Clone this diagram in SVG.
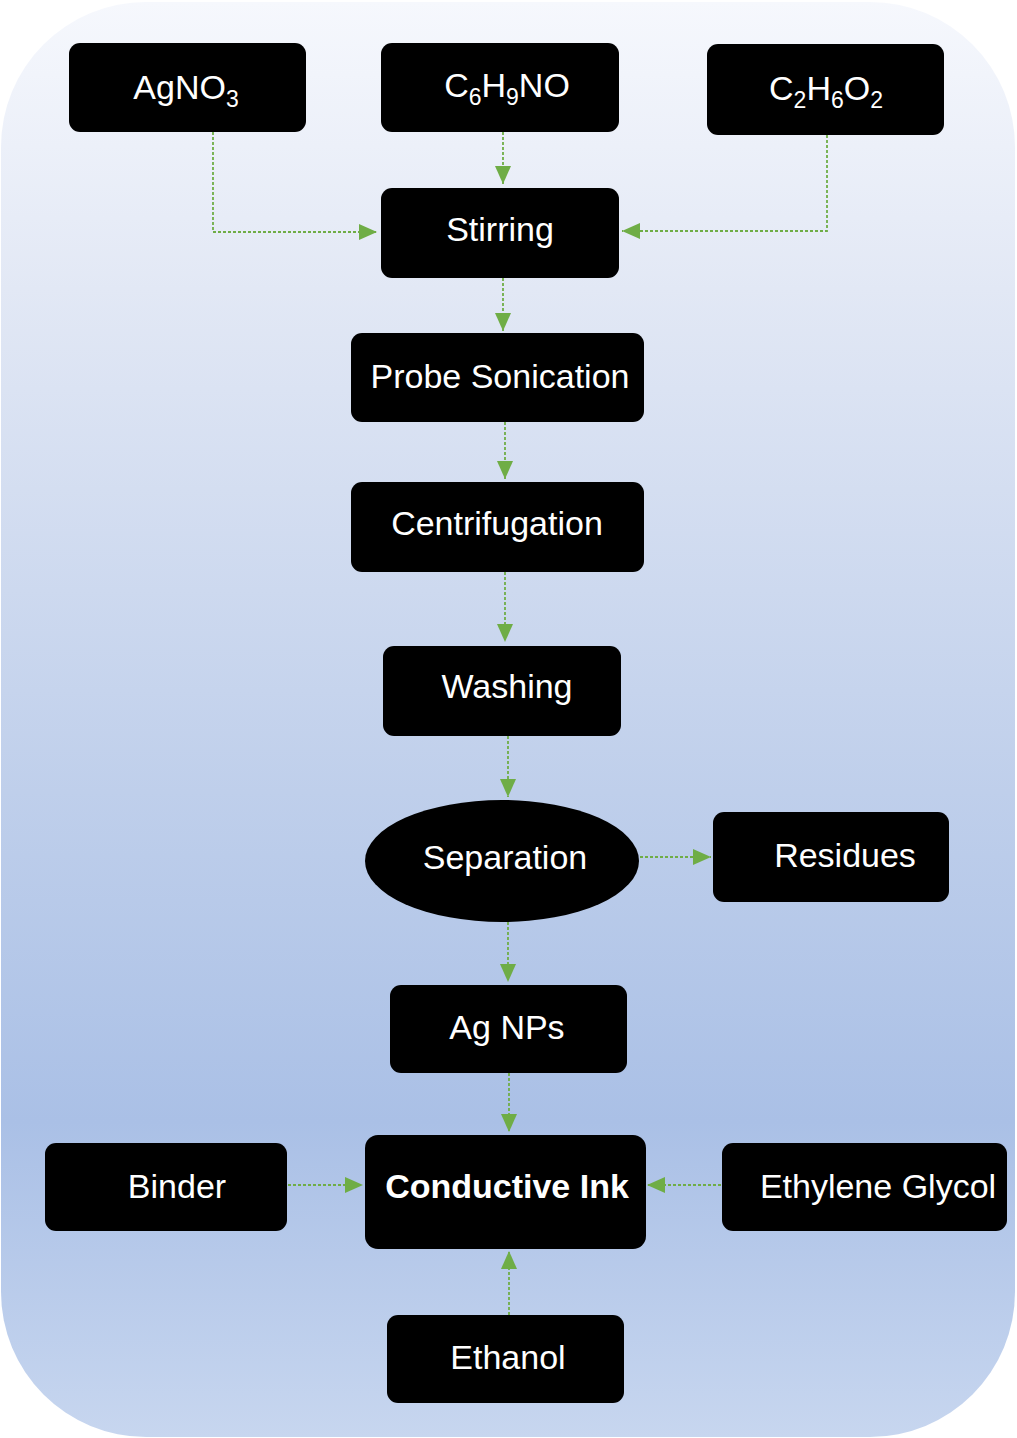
<svg xmlns="http://www.w3.org/2000/svg" width="1017" height="1438" viewBox="0 0 1017 1438">
<defs>
<linearGradient id="bg" x1="0" y1="0" x2="0" y2="1">
<stop offset="0" stop-color="#f6f8fd"/>
<stop offset="0.2" stop-color="#e2e8f5"/>
<stop offset="0.55" stop-color="#bfcfeb"/>
<stop offset="0.78" stop-color="#aac0e6"/>
<stop offset="1" stop-color="#c7d6ef"/>
</linearGradient>
<marker id="ah" viewBox="0 0 18 16" refX="18" refY="8" markerWidth="18" markerHeight="16" markerUnits="userSpaceOnUse" orient="auto">
<path d="M0,0 L18,8 L0,16 Z" fill="#6fad46"/>
</marker>
<style>
.box{fill:#000;}
.t{fill:#fff;font-family:"Liberation Sans",Arial,sans-serif;font-size:34px;text-anchor:middle;}
.b{font-weight:bold;}
.sub{font-size:23px;}
.c{fill:none;stroke:#6fad46;stroke-width:1.8;stroke-dasharray:3 2;marker-end:url(#ah);}
</style>
</defs>
<rect x="1" y="2" width="1014" height="1435" rx="145" ry="145" fill="url(#bg)"/>
<g id="connectors">
<path class="c" d="M213,132 V232 H377"/>
<path class="c" d="M503,132 V184"/>
<path class="c" d="M827,135 V231 H622"/>
<path class="c" d="M503,278 V331"/>
<path class="c" d="M505,422 V479"/>
<path class="c" d="M505,572 V642"/>
<path class="c" d="M508,736 V797"/>
<path class="c" d="M640,857 H711"/>
<path class="c" d="M508,922 V982"/>
<path class="c" d="M509,1073 V1132"/>
<path class="c" d="M288,1185 H363"/>
<path class="c" d="M721,1185 H647"/>
<path class="c" d="M509,1315 V1251"/>
</g>
<g id="agno3"><rect class="box" x="69" y="43" width="237" height="89" rx="11"/><text class="t" x="186" y="99">AgNO<tspan class="sub" dy="8">3</tspan></text></g>
<g id="c6h9no"><rect class="box" x="381" y="43" width="238" height="89" rx="11"/><text class="t" x="507" y="97">C<tspan class="sub" dy="8">6</tspan><tspan dy="-8">H</tspan><tspan class="sub" dy="8">9</tspan><tspan dy="-8">NO</tspan></text></g>
<g id="c2h6o2"><rect class="box" x="707" y="44" width="237" height="91" rx="11"/><text class="t" x="826" y="100">C<tspan class="sub" dy="8">2</tspan><tspan dy="-8">H</tspan><tspan class="sub" dy="8">6</tspan><tspan dy="-8">O</tspan><tspan class="sub" dy="8">2</tspan></text></g>
<g id="stirring"><rect class="box" x="381" y="188" width="238" height="90" rx="11"/><text class="t" x="500" y="241">Stirring</text></g>
<g id="probe"><rect class="box" x="351" y="333" width="293" height="89" rx="11"/><text class="t" x="500" y="388">Probe Sonication</text></g>
<g id="centrifugation"><rect class="box" x="351" y="482" width="293" height="90" rx="11"/><text class="t" x="497" y="535">Centrifugation</text></g>
<g id="washing"><rect class="box" x="383" y="646" width="238" height="90" rx="11"/><text class="t" x="507" y="698">Washing</text></g>
<g id="separation"><ellipse class="box" cx="502" cy="861" rx="137" ry="61"/><text class="t" x="505" y="869">Separation</text></g>
<g id="residues"><rect class="box" x="713" y="812" width="236" height="90" rx="11"/><text class="t" x="845" y="867">Residues</text></g>
<g id="agnps"><rect class="box" x="390" y="985" width="237" height="88" rx="11"/><text class="t" x="507" y="1039">Ag NPs</text></g>
<g id="binder"><rect class="box" x="45" y="1143" width="242" height="88" rx="11"/><text class="t" x="177" y="1198">Binder</text></g>
<g id="ink"><rect class="box" x="365" y="1135" width="281" height="114" rx="13"/><text class="t b" x="507" y="1198">Conductive Ink</text></g>
<g id="eg"><rect class="box" x="722" y="1143" width="285" height="88" rx="11"/><text class="t" x="878" y="1198">Ethylene Glycol</text></g>
<g id="ethanol"><rect class="box" x="387" y="1315" width="237" height="88" rx="11"/><text class="t" x="508" y="1369">Ethanol</text></g>
</svg>
